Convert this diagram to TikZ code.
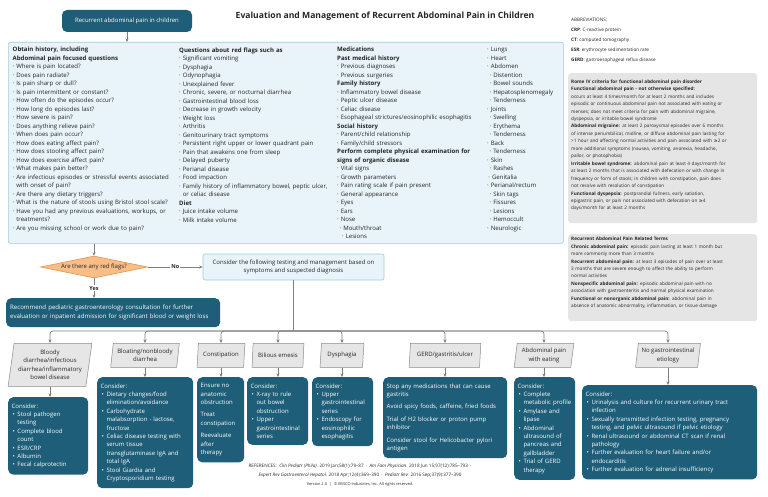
\documentclass[tikz,border=0pt]{standalone}
\usepackage{fontspec}
\setmainfont{Open Sans}
\newfontfamily\symfont{DejaVu Sans}
\usetikzlibrary{shapes.geometric,arrows.meta}
\definecolor{tealc}{HTML}{1E5E78}
\definecolor{lbfill}{HTML}{E8F4F9}
\definecolor{lbdraw}{HTML}{9CCBDD}
\definecolor{orfill}{HTML}{F9BE88}
\definecolor{ordraw}{HTML}{E39448}
\definecolor{gbox}{HTML}{E5E5E5}
\definecolor{pgfillc}{HTML}{E6E6E6}
\definecolor{pgdraw}{HTML}{8C8C8C}
\definecolor{linec}{HTML}{7F7F7F}
\definecolor{txt}{HTML}{262626}
\newcommand\dt{\makebox[3.6pt][l]{·}}
\newcommand\dc{\hspace*{3.6pt}}
\newcommand\bb{\hspace*{1pt}\makebox[4.8pt][l]{•}}
\newcommand\bc{\hspace*{5.8pt}}
\newcommand\gtesym{{\symfont ≥}}
\begin{document}
\hyphenpenalty=10000
\exhyphenpenalty=10000
\begin{tikzpicture}[x=1pt,y=-1pt,
  every node/.style={text=txt},
  tealbox/.style={fill=tealc, rounded corners=5pt, text=white, inner xsep=3.5pt, inner ysep=6.3pt, align=left, font=\fontsize{6}{8.4}\selectfont},
  pgram/.style={trapezium, trapezium left angle=80, trapezium right angle=100, trapezium stretches=true, draw=pgdraw, fill=pgfillc, line width=0.5pt, align=center, font=\fontsize{6}{8.5}\selectfont, inner sep=0pt},
  arr/.style={draw=linec, line width=0.7pt, -{Stealth[length=3.5pt,width=3pt]}},
  col/.style={anchor=north west, inner sep=0pt, align=left, font=\fontsize{6.05}{8.5}\selectfont},
  graytxt/.style={anchor=north west, inner sep=0pt, align=left, font=\fontsize{4.65}{7.45}\selectfont, text width=186pt},
  lbbox/.style={draw=lbdraw, fill=lbfill, rounded corners=2pt, line width=0.6pt},
  lbl/.style={fill=white, inner sep=1pt, font=\fontsize{5.5}{6}\selectfont\bfseries}
]
\useasboundingbox (0,0) rectangle (768,497);
\fill[white] (0,0) rectangle (768,497);

\node[font=\fontsize{8.6}{10}\selectfont\bfseries] (title) at (385,16) {Evaluation and Management of Recurrent Abdominal Pain in Children};

\node[fill=tealc, rounded corners=5pt, text=white, align=center, minimum width=130pt, minimum height=22pt, inner sep=0pt, font=\fontsize{6}{7}\selectfont] (top) at (127,21) {Recurrent abdominal pain in children};

\node[lbbox, minimum width=555pt, minimum height=201pt, anchor=north west, inner sep=0pt] (hist) at (8,42) {};
\draw[arr] (top.south) -- (top.south |- hist.north);

\node[col, text width=165pt] (c1) at (12.5,47.2) {\textbf{Obtain history, including}\\
\textbf{Abdominal pain focused questions}\\
\dt Where is pain located?\\
\dt Does pain radiate?\\
\dt Is pain sharp or dull?\\
\dt Is pain intermittent or constant?\\
\dt How often do the episodes occur?\\
\dt How long do episodes last?\\
\dt How severe is pain?\\
\dt Does anything relieve pain?\\
\dt When does pain occur?\\
\dt How does eating affect pain?\\
\dt How does stooling affect pain?\\
\dt How does exercise affect pain?\\
\dt What makes pain better?\\
\dt Are infectious episodes or stressful events associated\\
\dc with onset of pain?\\
\dt Are there any dietary triggers?\\
\dt What is the nature of stools using Bristol stool scale?\\
\dt Have you had any previous evaluations, workups, or\\
\dc treatments?\\
\dt Are you missing school or work due to pain?};

\node[col, text width=155pt] (c2) at (179,47.2) {\textbf{Questions about red flags such as}\\
\dt Significant vomiting\\
\dt Dysphagia\\
\dt Odynophagia\\
\dt Unexplained fever\\
\dt Chronic, severe, or nocturnal diarrhea\\
\dt Gastrointestinal blood loss\\
\dt Decrease in growth velocity\\
\dt Weight loss\\
\dt Arthritis\\
\dt Genitourinary tract symptoms\\
\dt Persistent right upper or lower quadrant pain\\
\dt Pain that awakens one from sleep\\
\dt Delayed puberty\\
\dt Perianal disease\\
\dt Food impaction\\
\dt Family history of inflammatory bowel, peptic ulcer,\\
\dc or celiac disease\\
\textbf{Diet}\\
\dt Juice intake volume\\
\dt Milk intake volume};

\node[col, text width=148pt] (c3) at (337,47.2) {\textbf{Medications}\\
\textbf{Past medical history}\\
\dt Previous diagnoses\\
\dt Previous surgeries\\
\textbf{Family history}\\
\dt Inflammatory bowel disease\\
\dt Peptic ulcer disease\\
\dt Celiac disease\\
\dt Esophageal strictures/eosinophilic esophagitis\\
\textbf{Social history}\\
\dt Parent/child relationship\\
\dt Family/child stressors\\
\textbf{Perform complete physical examination for}\\
\textbf{signs of organic disease}\\
\dt Vital signs\\
\dt Growth parameters\\
\dt Pain rating scale if pain present\\
\dt General appearance\\
\dt Eyes\\
\dt Ears\\
\dt Nose\\
\hspace*{2.5pt}\dt Mouth/throat\\
\hspace*{5pt}\dt Lesions};

\node[col, text width=72pt] (c4) at (487,47.2) {\dt Lungs\\
\dt Heart\\
\dt Abdomen\\
\hspace*{2.5pt}\dt Distention\\
\hspace*{2.5pt}\dt Bowel sounds\\
\hspace*{2.5pt}\dt Hepatosplenomegaly\\
\hspace*{2.5pt}\dt Tenderness\\
\dt Joints\\
\hspace*{2.5pt}\dt Swelling\\
\hspace*{2.5pt}\dt Erythema\\
\hspace*{2.5pt}\dt Tenderness\\
\dt Back\\
\hspace*{2.5pt}\dt Tenderness\\
\dt Skin\\
\hspace*{2.5pt}\dt Rashes\\
\hspace*{1.2pt}\dt Genitalia\\
\dt Perianal/rectum\\
\hspace*{2.5pt}\dt Skin tags\\
\hspace*{2.5pt}\dt Fissures\\
\hspace*{2.5pt}\dt Lesions\\
\hspace*{2.5pt}\dt Hemoccult\\
\dt Neurologic};

\node[diamond, aspect=4.9, minimum width=107pt, minimum height=22pt, inner sep=0pt, fill=orfill, draw=ordraw, line width=0.6pt, font=\fontsize{6}{7}\selectfont] (dia) at (94,267) {Are there any red flags?};
\draw[arr] (hist.south -| dia.north) -- (dia.north);

\node[lbbox, minimum width=181pt, minimum height=26pt, align=center, inner sep=0pt, font=\fontsize{6}{8.6}\selectfont] (cons) at (293.5,267) {Consider the following testing and management based on\\symptoms and suspected diagnosis};
\draw[arr] (dia.east) -- node[lbl] {No} (cons.west);

\node[fill=tealc, rounded corners=5pt, text=white, anchor=north west, align=left, text width=206pt, minimum height=29pt, inner xsep=4pt, inner ysep=0pt, font=\fontsize{6.1}{9}\selectfont] (rf) at (6,298) {Recommend pediatric gastroenterology consultation for further\\evaluation or inpatient admission for significant blood or weight loss};
\draw[arr] (dia.south) -- node[lbl] {Yes} (dia.south |- rf.north);

% distribution
\coordinate (lvl) at (0,331);
\coordinate (split) at (cons.south |- lvl);
\draw[draw=linec, line width=0.7pt] (cons.south) -- (split);

\node[pgram, minimum width=84pt, minimum height=43pt, anchor=north] (p1) at (50,343) {Bloody\\diarrhea/infectious\\diarrhea/inflammatory\\bowel disease};
\node[pgram, minimum width=69pt, minimum height=24pt, anchor=north] (p2) at (145,343) {Bloating/nonbloody\\diarrhea};
\node[pgram, minimum width=48pt, minimum height=24pt, anchor=north] (p3) at (221,343) {Constipation};
\node[pgram, minimum width=52pt, minimum height=24pt, anchor=north] (p4) at (278,343) {Bilious emesis};
\node[pgram, minimum width=44pt, minimum height=24pt, anchor=north] (p5) at (342,343) {Dysphagia};
\node[pgram, minimum width=72pt, minimum height=24pt, anchor=north] (p6) at (445,343) {GERD/gastritis/ulcer};
\node[pgram, minimum width=60pt, minimum height=24pt, anchor=north] (p7) at (544,343) {Abdominal pain\\with eating};
\node[pgram, minimum width=65pt, minimum height=24pt, anchor=north] (p8) at (668,343) {No gastrointestinal\\etiology};

\foreach \p in {p1,p2,p3,p4,p5,p6,p7,p8}{
  \draw[arr, rounded corners=3pt] (split) -| (\p.north);
}

\node[tealbox, anchor=north west, text width=73pt] (t1) at (8,397) {Consider:\\
\bb Stool pathogen\\ \bc testing\\
\bb Complete blood\\ \bc count\\
\bb ESR/CRP\\
\bb Albumin\\
\bb Fecal calprotectin};
\node[tealbox, anchor=north west, text width=89pt] (t2) at (97,377) {Consider:\\
\bb Dietary changes/food\\ \bc elimination/avoidance\\
\bb Carbohydrate\\ \bc malabsorption - lactose,\\ \bc fructose\\
\bb Celiac disease testing with\\ \bc serum tissue\\ \bc transglutaminase IgA and\\ \bc total IgA\\
\bb Stool Giardia and\\ \bc Cryptosporidium testing};
\node[tealbox, anchor=north west, text width=40pt] (t3) at (197,377) {Ensure no\\anatomic\\obstruction\\[4pt]
Treat\\constipation\\[4pt]
Reevaluate\\after\\therapy};
\node[tealbox, anchor=north west, text width=54pt] (t4) at (247,377) {Consider:\\
\bb X-ray to rule\\ \bc out bowel\\ \bc obstruction\\
\bb Upper\\ \bc gastrointestinal\\ \bc series};
\node[tealbox, anchor=north west, text width=54pt] (t5) at (312,377) {Consider:\\
\bb Upper\\ \bc gastrointestinal\\ \bc series\\
\bb Endoscopy for\\ \bc eosinophilic\\ \bc esophagitis};
\node[tealbox, anchor=north west, text width=117pt] (t6) at (383,377) {Stop any medications that can cause\\gastritis\\[4pt]
Avoid spicy foods, caffeine, fried foods\\[4pt]
Trial of H2 blocker or proton pump\\inhibitor\\[4pt]
Consider stool for Helicobacter pylori\\antigen};
\node[tealbox, anchor=north west, text width=54pt] (t7) at (514,377) {Consider:\\
\bb Complete\\ \bc metabolic profile\\
\bb Amylase and\\ \bc lipase\\
\bb Abdominal\\ \bc ultrasound of\\ \bc pancreas and\\ \bc gallbladder\\
\bb Trial of GERD\\ \bc therapy};
\node[tealbox, anchor=north west, text width=168pt] (t8) at (582,385) {Consider:\\
\bb Urinalysis and culture for recurrent urinary tract\\ \bc infection\\
\bb Sexually transmitted infection testing, pregnancy\\ \bc testing, and pelvic ultrasound if pelvic etiology\\
\bb Renal ultrasound or abdominal CT scan if renal\\ \bc pathology\\
\bb Further evaluation for heart failure and/or\\ \bc endocarditis\\
\bb Further evaluation for adrenal insufficiency};

\foreach \i in {1,...,8}{
  \draw[arr] (p\i.south) -- (p\i.south |- t\i.north);
}

% right column
\node[anchor=north west, inner sep=0pt, align=left, font=\fontsize{4.65}{10}\selectfont] (abbr) at (571,17.5) {ABBREVIATIONS:\\
\textbf{CRP}: C-reactive protein\\
\textbf{CT}: computed tomography\\
\textbf{ESR}: erythrocyte sedimentation rate\\
\textbf{GERD}: gastroesophageal reflux disease};

\node[fill=gbox, rounded corners=3pt, minimum width=189pt, minimum height=150pt, anchor=north west, inner sep=0pt] (rome) at (568,73) {};
\node[graytxt] (rometxt) at (571,79.5) {\textbf{Rome IV criteria for functional abdominal pain disorder}\\
\textbf{Functional abdominal pain - not otherwise specified:}\\
occurs at least 4 times/month for at least 2 months and includes\\
episodic or continuous abdominal pain not associated with eating or\\
menses; does not meet criteria for pain with abdominal migraine,\\
dyspepsia, or irritable bowel syndrome\\
\textbf{Abdominal migraine:} at least 2 paroxysmal episodes over 6 months\\
of intense periumbilical, midline, or diffuse abdominal pain lasting for\\
>1 hour and affecting normal activities and pain associated with \gtesym2 or\\
more additional symptoms (nausea, vomiting, anorexia, headache,\\
pallor, or photophobia)\\
\textbf{Irritable bowel syndrome:} abdominal pain at least 4 days/month for\\
at least 2 months that is associated with defecation or with change in\\
frequency or form of stools; in children with constipation, pain does\\
not resolve with resolution of constipation\\
\textbf{Functional dyspepsia:} postprandial fullness, early satiation,\\
epigastric pain, or pain not associated with defecation on \gtesym4\\
days/month for at least 2 months};

\node[fill=gbox, rounded corners=3pt, minimum width=189pt, minimum height=87pt, anchor=north west, inner sep=0pt] (rec) at (568,234) {};
\node[graytxt] (rectxt) at (571,237) {\textbf{Recurrent Abdominal Pain Related Terms}\\
\textbf{Chronic abdominal pain:} episodic pain lasting at least 1 month but\\
more commonly more than 3 months\\
\textbf{Recurrent abdominal pain:} at least 3 episodes of pain over at least\\
3 months that are severe enough to affect the ability to perform\\
normal activities\\
\textbf{Nonspecific abdominal pain:} episodic abdominal pain with no\\
association with gastroenteritis and normal physical examination\\
\textbf{Functional or nonorganic abdominal pain:} abdominal pain in\\
absence of anatomic abnormality, inflammation, or tissue damage};

% footer
\node[inner sep=0pt, align=center, font=\fontsize{4.6}{9}\selectfont] (refs) at (360,470.5) {REFERENCES:\enspace \textit{Clin Pediatr (Phila).} 2019 Jan;58(1):79–87\enspace·\enspace\textit{Am Fam Physician.} 2018 Jun 15;97(12):785–793\enspace·\\
\textit{Expert Rev Gastroenterol Hepatol.} 2018 Apr;12(4):369–390\enspace·\enspace\textit{Pediatr Rev.} 2016 Sep;37(9):377–390};
\node[inner sep=0pt, font=\fontsize{3.9}{5}\selectfont] (ver) at (360,484) {Version 2.0 \enspace|\enspace © EBSCO Industries, Inc. All rights reserved.};
\end{tikzpicture}
\end{document}
